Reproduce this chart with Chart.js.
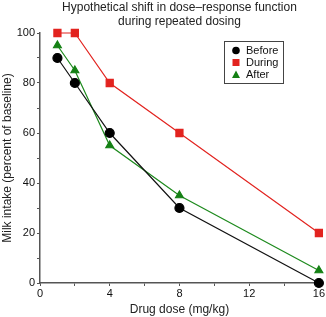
<!DOCTYPE html>
<html>
<head>
<meta charset="utf-8">
<script src="https://cdn.jsdelivr.net/npm/chart.js@4"></script>
<style>
  html, body { margin: 0; padding: 0; background: #fff; }
  #wrap { width: 326px; height: 317px; }
</style>
</head>
<body>
<div id="wrap"><canvas id="chart" width="326" height="317"></canvas></div>
<script>
// data
const doses = [1, 2, 4, 8, 16];
const before = [90, 80, 60, 30, 0];
const during = [100, 100, 80, 60, 20];
const after = [95, 85, 55, 35, 5];
const xTicks = [0, 4, 8, 12, 16];
const yTicks = [0, 20, 40, 60, 80, 100];
const titleLines = ['Hypothetical shift in dose\u2013response function', 'during repeated dosing'];

const FONT = "'Liberation Sans', Arial, sans-serif";

function pts(values) {
    return doses.map((d, i) => ({ x: d, y: values[i] }));
}

// title centred over the plot area, plus the boxed legend
const decorations = {
    id: 'decorations',
    afterDraw(chart) {
        const ctx = chart.ctx;
        const area = chart.chartArea;
        ctx.save();
        ctx.fillStyle = '#222';
        ctx.font = '12px ' + FONT;
        ctx.textAlign = 'center';
        ctx.textBaseline = 'middle';
        const cx = (area.left + area.right) / 2;
        titleLines.forEach((t, i) => ctx.fillText(t, cx, 7.5 + i * 14));

        const x0 = 224, y0 = 41, w = 59, h = 42;
        ctx.strokeStyle = '#444';
        ctx.lineWidth = 1;
        ctx.strokeRect(x0 + 0.5, y0 + 0.5, w, h);
        ctx.font = '11px ' + FONT;
        ctx.textAlign = 'left';
        chart.data.datasets.forEach((ds, i) => {
            const cy = y0 + 9.5 + i * 12;
            const mx = x0 + 12;
            ctx.fillStyle = ds.pointBackgroundColor;
            ctx.beginPath();
            if (ds.pointStyle === 'circle') {
                ctx.arc(mx, cy, 3.8, 0, Math.PI * 2);
            } else if (ds.pointStyle === 'rect') {
                ctx.rect(mx - 3.5, cy - 3.5, 7, 7);
            } else {
                ctx.moveTo(mx, cy - 4);
                ctx.lineTo(mx + 4, cy + 3.5);
                ctx.lineTo(mx - 4, cy + 3.5);
                ctx.closePath();
            }
            ctx.fill();
            ctx.fillStyle = '#111';
            ctx.fillText(ds.label, x0 + 22, cy);
        });
        ctx.restore();
    }
};

const axisGrey = '#555';

new Chart(document.getElementById('chart'), {
    type: 'line',
    data: {
        datasets: [
            {
                label: 'Before', data: pts(before),
                borderColor: '#111', backgroundColor: '#000',
                pointBackgroundColor: '#000', pointBorderColor: '#000',
                pointStyle: 'circle', pointRadius: 4.5, borderWidth: 1.2
            },
            {
                label: 'During', data: pts(during),
                borderColor: '#e2231f', backgroundColor: '#e2231f',
                pointBackgroundColor: '#e2231f', pointBorderColor: '#e2231f',
                pointStyle: 'rect', pointRadius: 5, borderWidth: 1.2
            },
            {
                label: 'After', data: pts(after),
                borderColor: '#1d8a1d', backgroundColor: '#148014',
                pointBackgroundColor: '#148014', pointBorderColor: '#148014',
                pointStyle: 'triangle', pointRadius: 4.5, borderWidth: 1.2
            }
        ]
    },
    options: {
        responsive: false,
        animation: false,
        clip: false,
        layout: { padding: { left: 0, right: 6, top: 33, bottom: 0 } },
        plugins: {
            legend: { display: false },
            tooltip: { enabled: false },
            title: { display: false }
        },
        scales: {
            x: {
                type: 'linear',
                min: 0, max: 16,
                afterBuildTicks(scale) {
                    const out = [];
                    for (let v = 0; v <= 16; v += 2) out.push({ value: v });
                    scale.ticks = out;
                },
                afterFit(scale) { scale.height = 34; },
                ticks: {
                    color: '#111',
                    font: { family: FONT, size: 11 },
                    padding: 1,
                    maxRotation: 0,
                    autoSkip: false,
                    callback: v => xTicks.includes(v) ? String(v) : ''
                },
                grid: {
                    display: true, drawOnChartArea: false, drawTicks: true,
                    tickLength: 3, color: axisGrey, lineWidth: 1
                },
                border: { display: true, color: axisGrey, width: 1.5 },
                title: {
                    display: true, text: 'Drug dose (mg/kg)', color: '#222',
                    font: { family: FONT, size: 12 },
                    padding: { top: 0, bottom: 0 }
                }
            },
            y: {
                type: 'linear',
                min: 0, max: 100,
                afterBuildTicks(scale) {
                    const out = [];
                    for (let v = 0; v <= 100; v += 10) out.push({ value: v });
                    scale.ticks = out;
                },
                afterFit(scale) { scale.width = 40; },
                ticks: {
                    color: '#111',
                    font: { family: FONT, size: 11 },
                    padding: 2,
                    autoSkip: false,
                    callback: v => yTicks.includes(v) ? String(v) : ''
                },
                grid: {
                    display: true, drawOnChartArea: false, drawTicks: true,
                    tickLength: 3, color: axisGrey, lineWidth: 1
                },
                border: { display: true, color: axisGrey, width: 1.5 },
                title: {
                    display: true, text: 'Milk intake (percent of baseline)', color: '#222',
                    font: { family: FONT, size: 12 },
                    padding: { top: 0, bottom: 1 }
                }
            }
        }
    },
    plugins: [decorations]
});
</script>
</body>
</html>
